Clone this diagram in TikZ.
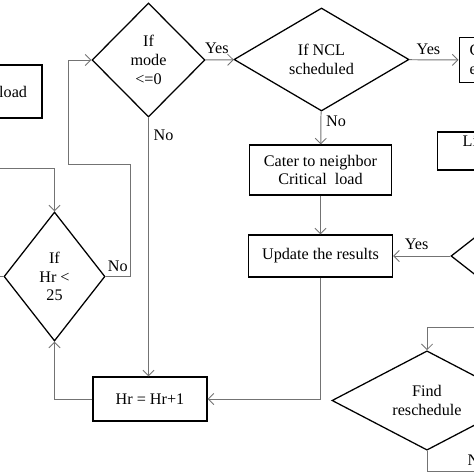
\documentclass[tikz,border=0pt]{standalone}
\usepackage{fontspec}
\setmainfont{Liberation Serif}
\usetikzlibrary{arrows.meta,shapes.geometric}

\begin{document}
\begin{tikzpicture}[->,>={Straight Barb[length=4pt,width=8pt,line width=0.6pt]},
                    x=0.025cm,y=-0.025cm,line width=0.7pt,
                    font=\fontsize{11.5}{13.4}\selectfont]

  \tikzstyle{block}=[draw=black,-,line width=0.9pt,rectangle,align=center,inner sep=0pt]
  \tikzstyle{decision}=[draw=black,-,line width=0.9pt,diamond,align=center,inner sep=0pt]
  \tikzstyle{flow}=[draw=black!55]

  \useasboundingbox (0,0) rectangle (474,474);
  \clip (0,0) rectangle (474,474);

  \node[block, anchor=east, text width=2cm, align=right, inner xsep=0.375cm,
        minimum height=1.325cm]                             (load)   at (42.7,91.5)  {load};
  \node[decision, minimum width=2.825cm, minimum height=2.85cm]  (mode)   at (148.5,60)   {If\\mode\\<=0};
  \node[decision, minimum width=4.375cm, minimum height=2.575cm] (ncl)    at (321.5,59.5) {If NCL\\scheduled};
  \node[block, anchor=west, text width=2cm, align=left, inner xsep=0.2625cm,
        minimum height=1.1375cm]                            (crit)   at (458.5,60)   {C\\e};
  \node[block, anchor=west, text width=2cm, align=left, inner xsep=0.625cm,
        minimum height=0.95cm]                              (limit)  at (437,151)    {Li\\\phantom{L}};
  \node[block, minimum width=3.55cm, minimum height=1.25cm]      (cater)  at (320.5,170)  {Cater to neighbor\\Critical\ \ load};
  \node[block, minimum width=3.6cm, minimum height=1.05cm]       (update) at (320.5,256)  {Update the results};
  \node[decision, minimum width=3cm, minimum height=2.35cm]      (chk)    at (511,256)    {};
  \node[decision, minimum width=4.75cm, minimum height=2.325cm]  (find)   at (427,400.5)  {Find\\reschedule};
  \node[decision, minimum width=2.525cm, minimum height=3.225cm] (hrdia)  at (54.5,276.5) {If\\Hr <\\25};
  \node[block, minimum width=2.85cm, minimum height=1.1cm]       (hrbox)  at (150,399)    {Hr = Hr+1};

  \coordinate (l1)   at (130,164);
  \coordinate (l2)   at (68,164);
  \coordinate (in1)  at (0,168);
  \coordinate (out1) at (0,276.5);
  \coordinate (fin)  at (480,327);
  \coordinate (fout) at (490,471);

  \path[flow] (mode)   edge node[above=1pt,pos=0.4] {Yes} (ncl)
              (ncl)    edge node[above,pos=0.39]    {Yes} (crit)
              (ncl)    edge node[right,pos=0.3]     {No}  (cater)
              (cater)  edge                               (update)
              (chk)    edge node[above=1pt,pos=0.59] {Yes} (update);

  \draw[flow] (mode.south) -- node[right,pos=0.07] {No} (mode.south |- hrbox.north);
  \draw[flow] (update.south) |- (hrbox.east);
  \draw[flow] (hrbox.west) -| (hrdia.south);
  \draw[flow] (hrdia.east) -| node[above,pos=0.25] {No} (l1) -- (l2) |- (mode.west);
  \draw[flow] (in1) -| (hrdia.north);
  \draw[flow,-] (hrdia.west) -- (out1);
  \draw[flow] (fin) -| (find.north);
  \draw[flow,-] (find.south) |- node[above,pos=0.9] {No} (fout);
\end{tikzpicture}
\end{document}
